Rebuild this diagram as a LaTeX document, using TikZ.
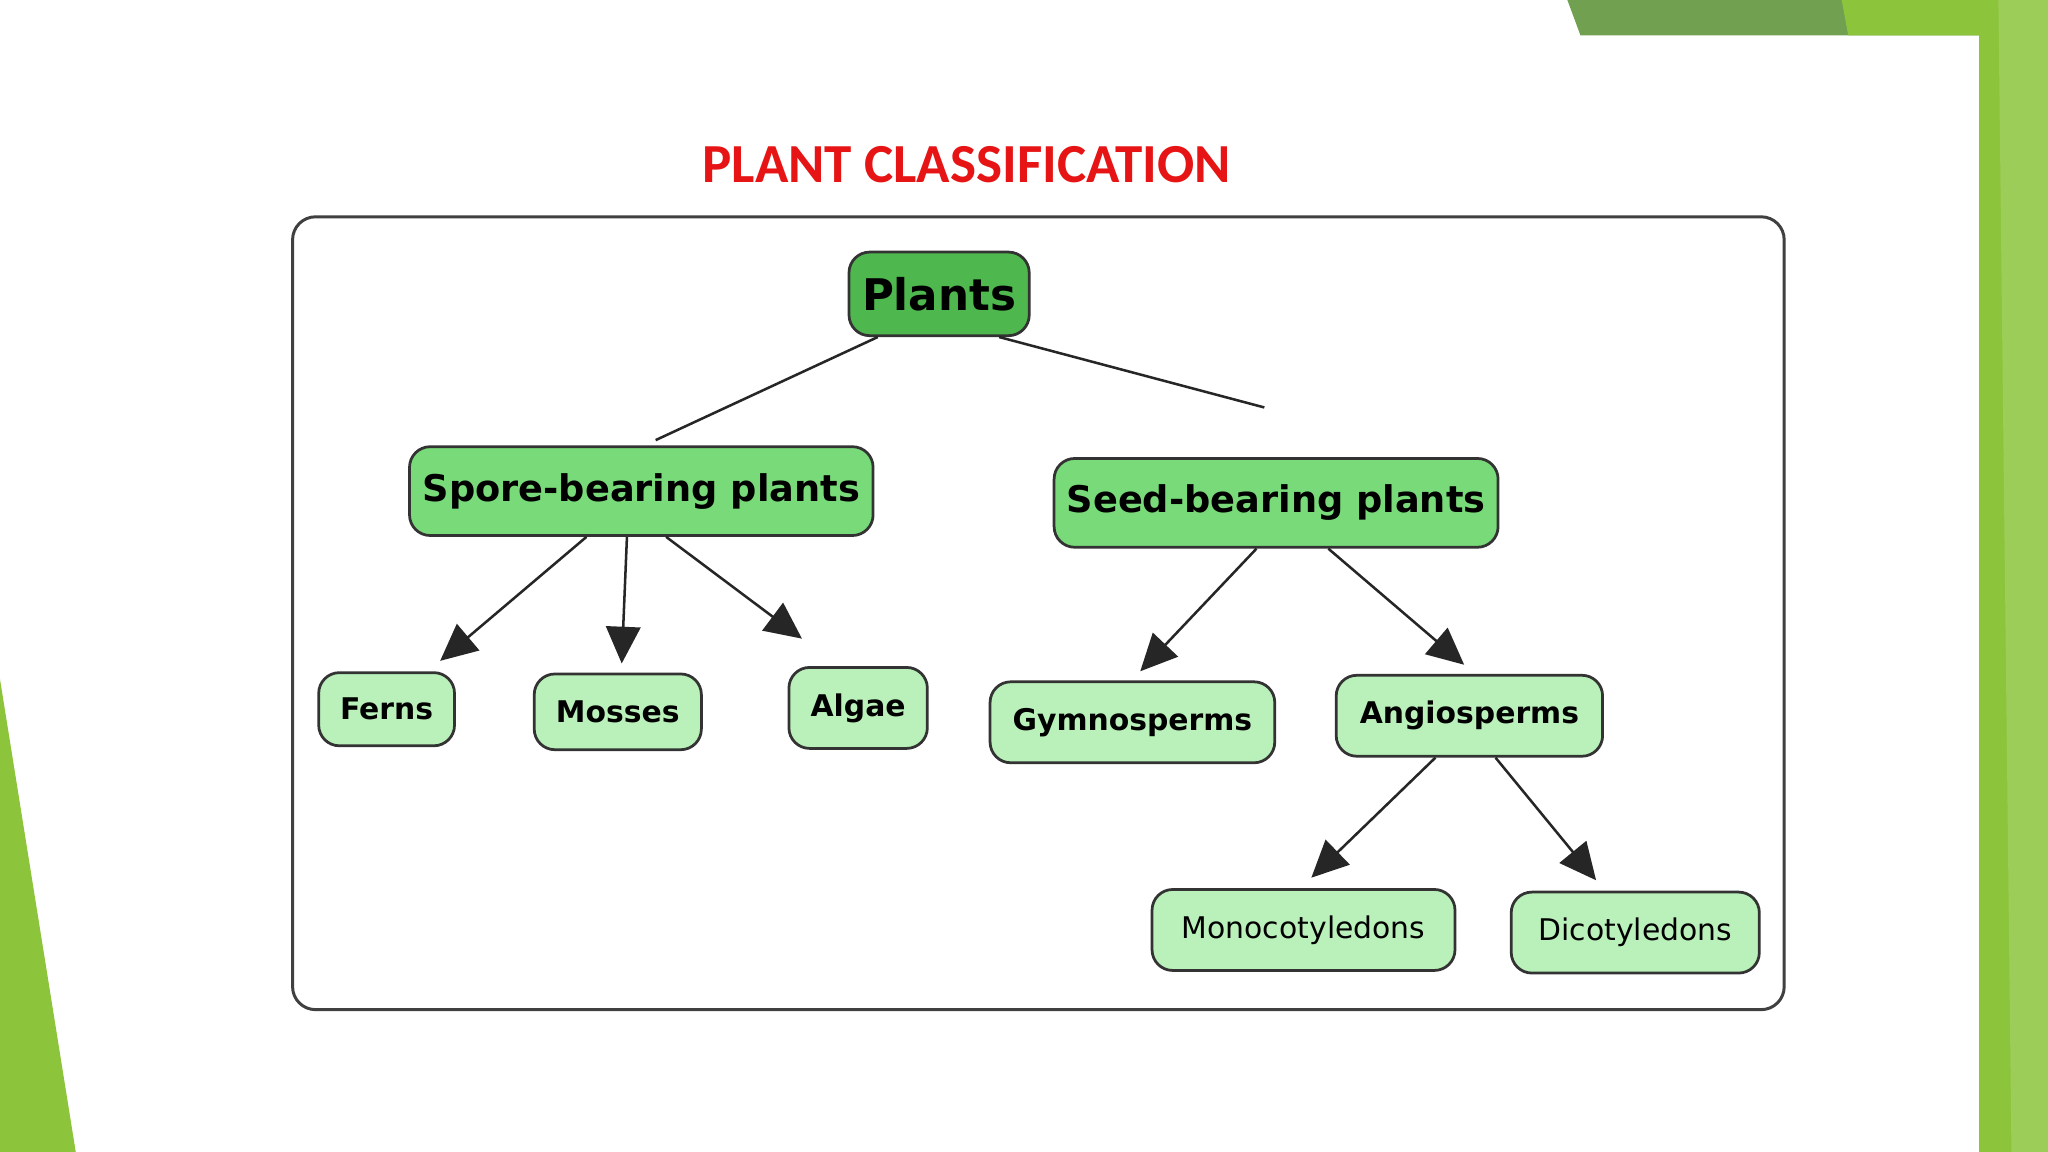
\documentclass[tikz,border=0pt]{standalone}
\usepackage{fontspec}
\setmainfont{DejaVu Sans}
\newfontfamily\titlefont{Carlito}
\usetikzlibrary{arrows.meta}
\definecolor{gA}{RGB}{78,184,78}
\definecolor{gB}{RGB}{120,218,120}
\definecolor{gC}{RGB}{186,240,186}
\definecolor{side1}{RGB}{140,196,60}
\definecolor{side2}{RGB}{112,160,80}
\begin{document}
\begin{tikzpicture}[x=0.02cm,y=-0.02cm,
 box/.style={draw=black!80,line width=1.2pt,rounded corners=9pt,inner sep=0pt,align=center},
 conn/.style={draw=black!85,line width=1.1pt},
 arr/.style={conn,-{Triangle[length=16pt,width=15pt]}}]
\useasboundingbox (0,0) rectangle (1568,882);
\fill[white] (0,0) rectangle (1568,882);
% decorations
\fill[side2] (1200,0) -- (1568,0) -- (1568,27) -- (1210,27) -- cycle;
\fill[side1] (1410,0) -- (1568,0) -- (1568,27) -- (1415,27) -- cycle;
\fill[side1] (1515,27) rectangle (1568,882);
\fill[side1!85!white] (1530,0) -- (1568,0) -- (1568,882) -- (1540,882) -- cycle;
\fill[side1] (0,520) -- (58,882) -- (0,882) -- cycle;
% title
\node (title) at (740,126) {\titlefont\bfseries\fontsize{24}{28}\selectfont\color[RGB]{230,20,20}PLANT CLASSIFICATION};
\draw[line width=1.3pt,draw=black!75,rounded corners=10pt] (224,166) rectangle (1366,773);
% nodes
\node[box,fill=gA,minimum width=2.76cm,minimum height=1.28cm,font=\bfseries\fontsize{19}{22}\selectfont] (pl) at (719,225) {Plants};
\node[box,fill=gB,minimum width=7.1cm,minimum height=1.36cm,font=\bfseries\fontsize{16}{20}\selectfont] (sp) at (491,376) {Spore-bearing plants};
\node[box,fill=gB,minimum width=6.8cm,minimum height=1.36cm,font=\bfseries\fontsize{16}{20}\selectfont] (se) at (977,385) {Seed-bearing plants};
\node[box,fill=gC,minimum width=2.08cm,minimum height=1.12cm,font=\bfseries\fontsize{13}{16}\selectfont] (fe) at (296,543) {Ferns};
\node[box,fill=gC,minimum width=2.56cm,minimum height=1.16cm,font=\bfseries\fontsize{13}{16}\selectfont] (mo) at (473,545) {Mosses};
\node[box,fill=gC,minimum width=2.12cm,minimum height=1.24cm,font=\bfseries\fontsize{13}{16}\selectfont] (al) at (657,542) {Algae};
\node[box,fill=gC,minimum width=4.36cm,minimum height=1.24cm,font=\bfseries\fontsize{13}{16}\selectfont] (gy) at (867,553) {Gymnosperms};
\node[box,fill=gC,minimum width=4.08cm,minimum height=1.24cm,font=\bfseries\fontsize{13}{16}\selectfont] (an) at (1125,548) {Angiosperms};
\node[box,fill=gC,minimum width=4.64cm,minimum height=1.24cm,font=\fontsize{13}{16}\selectfont] (mc) at (998,712) {Monocotyledons};
\node[box,fill=gC,minimum width=3.8cm,minimum height=1.24cm,font=\fontsize{13}{16}\selectfont] (dc) at (1252,714) {Dicotyledons};
% connectors
\draw[conn] ([xshift=-0.94cm]pl.south) -- ([xshift=0.22cm,yshift=0.08cm]sp.north);
\draw[conn] ([xshift=0.92cm]pl.south) -- ([xshift=-0.18cm,yshift=0.76cm]se.north);
\draw[arr] ([xshift=-0.84cm]sp.south) -- ([xshift=0.82cm,yshift=0.16cm]fe.north);
\draw[arr] ([xshift=-0.22cm]sp.south) -- ([xshift=0.06cm,yshift=0.14cm]mo.north);
\draw[arr] ([xshift=0.38cm]sp.south) -- ([xshift=-0.86cm,yshift=0.42cm]al.north);
\draw[arr] ([xshift=-0.3cm]se.south) -- ([xshift=0.12cm,yshift=0.14cm]gy.north);
\draw[arr] ([xshift=0.8cm]se.south) -- ([xshift=-0.08cm,yshift=0.14cm]an.north);
\draw[arr] ([xshift=-0.52cm]an.south) -- ([xshift=0.12cm,yshift=0.16cm]mc.north);
\draw[arr] ([xshift=0.4cm]an.south) -- ([xshift=-0.6cm,yshift=0.16cm]dc.north);
\end{tikzpicture}
\end{document}
